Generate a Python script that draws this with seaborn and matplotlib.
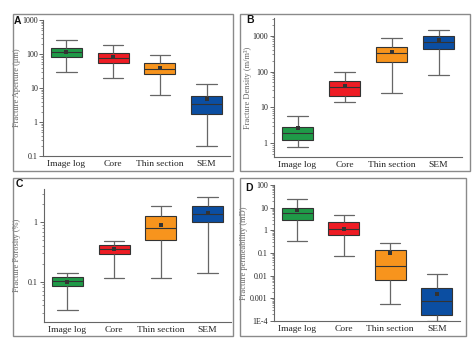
import numpy as np
import pandas as pd
import matplotlib
matplotlib.use("Agg")
import matplotlib.pyplot as plt
from matplotlib.patches import Rectangle
from matplotlib.ticker import FixedLocator, FixedFormatter, LogLocator, NullFormatter
import seaborn as sns

sns.set_theme(style="white")
plt.rcParams['font.family'] = ['Liberation Serif', 'DejaVu Serif']

categories = ["Image log", "Core", "Thin section", "SEM"]
colors = ["#1f9a48", "#ee1c24", "#f7941d", "#0b4ea2"]

# five-number summaries: min, q1, median, q3, max
aperture_min = [30, 19.5, 6.2, 0.2]
aperture_q1 = [82, 56, 25.7, 1.75]
aperture_med = [112, 78, 37, 3.5]
aperture_q3 = [155, 108, 56, 6.0]
aperture_max = [261, 178, 96, 13.3]
aperture_mean = [115, 80, 40, 4.6]

density_min = [0.8, 13.9, 25, 80]
density_q1 = [1.24, 21, 184, 415]
density_med = [2.0, 36, 321, 676]
density_q3 = [2.9, 54, 472, 955]
density_max = [5.6, 95, 857, 1460]
density_mean = [2.6, 40, 343, 740]

porosity_min = [0.033, 0.114, 0.114, 0.141]
porosity_q1 = [0.084, 0.29, 0.50, 1.02]
porosity_med = [0.102, 0.35, 0.80, 1.38]
porosity_q3 = [0.121, 0.41, 1.26, 1.86]
porosity_max = [0.141, 0.49, 1.9, 2.67]
porosity_mean = [0.098, 0.35, 0.89, 1.42]

perm_min = [0.34, 0.076, 0.00059, 0.000102]
perm_q1 = [2.95, 0.61, 0.0065, 0.000184]
perm_med = [5.6, 1.13, 0.028, 0.00078]
perm_q3 = [10.0, 2.24, 0.135, 0.0028]
perm_max = [23.8, 4.8, 0.278, 0.012]
perm_mean = [8.0, 1.1, 0.096, 0.0015]

W, H = 474, 348
fig = plt.figure(figsize=(W / 100, H / 100), dpi=100)

def fr(l, t, r, b):
    return [l / W, (H - b) / H, (r - l) / W, (b - t) / H]

panels = [
    dict(letter="A", frame=(13, 14, 233, 171), ax=(43, 20, 230, 156), lab=(14, 21), ylx=21,
         stats=(aperture_min, aperture_q1, aperture_med, aperture_q3, aperture_max), mean=aperture_mean,
         ylim=(0.1, 1000), ticks=[0.1, 1, 10, 100, 1000], tl=["0.1", "1", "10", "100", "1000"],
         ylabel="Fracture Aperture (μm)", pad=0.8),
    dict(letter="B", frame=(240, 14, 470, 171), ax=(274, 18, 462, 157), lab=(246, 20), ylx=252,
         stats=(density_min, density_q1, density_med, density_q3, density_max), mean=density_mean,
         ylim=(0.416, 3100), ticks=[1, 10, 100, 1000], tl=["1", "10", "100", "1000"],
         ylabel="Fracture Density (m/m³)", pad=1.5),
    dict(letter="C", frame=(13, 178, 233, 336), ax=(44, 189, 231, 322), lab=(16, 184), ylx=21,
         stats=(porosity_min, porosity_q1, porosity_med, porosity_q3, porosity_max), mean=porosity_mean,
         ylim=(0.021, 3.64), ticks=[0.1, 1], tl=["0.1", "1"],
         ylabel="Fracture Porosity (%)", pad=1.5),
    dict(letter="D", frame=(240, 178, 466, 336), ax=(274, 185, 460, 321), lab=(245, 188), ylx=248,
         stats=(perm_min, perm_q1, perm_med, perm_q3, perm_max), mean=perm_mean,
         ylim=(1e-4, 100), ticks=[1e-4, 1e-3, 1e-2, 0.1, 1, 10, 100],
         tl=["1E-4", "0.001", "0.01", "0.1", "1", "10", "100"],
         ylabel="Fracture permeability (mD)", pad=1.5),
]

spine_c = "#666666"
box_w = 0.66
cap_w = 0.44
for p in panels:
    l, t, r, b = p["frame"]
    fig.patches.append(Rectangle((l / W, (H - b) / H), (r - l) / W, (b - t) / H,
                                 transform=fig.transFigure, fill=False,
                                 edgecolor="#8a8a8a", linewidth=1.0))
    axl, axt, axr, axb = p["ax"]
    ax = fig.add_axes(fr(axl, axt, axr, axb))
    ax.set_facecolor("none")
    ax.set_yscale("log")
    mins, q1, med, q3, mx = p["stats"]
    rows = []
    for i, c in enumerate(categories):
        for v in (mins[i], q1[i], med[i], q3[i], mx[i]):
            rows.append((c, v))
    df = pd.DataFrame(rows, columns=["cat", "val"])
    sns.boxplot(data=df, x="cat", y="val", hue="cat", order=categories, hue_order=categories,
                palette=colors, whis=(0, 100), width=box_w, legend=False, ax=ax,
                linewidth=0.8, linecolor="#333333", saturation=1, dodge=False,
                whiskerprops=dict(color="#666666", linewidth=0.9),
                capprops=dict(color="#666666", linewidth=0.9),
                medianprops=dict(color="#333333", linewidth=0.8))
    # widen the whisker caps
    for ln in ax.lines:
        xd = np.asarray(ln.get_xdata(), dtype=float)
        yd = np.asarray(ln.get_ydata(), dtype=float)
        if len(xd) == 2 and yd[0] == yd[1]:
            span = abs(xd[1] - xd[0])
            if 0 < span < 0.9 * box_w:
                cx = xd.mean()
                ln.set_xdata([cx - cap_w / 2, cx + cap_w / 2])
    mdf = pd.DataFrame({"cat": categories, "val": p["mean"]})
    sns.stripplot(data=mdf, x="cat", y="val", order=categories, jitter=False, marker="s",
                  size=2.4, color="#333333", linewidth=0, ax=ax)
    ax.set_xlim(-0.5, 3.5)
    ax.set_ylim(*p["ylim"])
    ax.yaxis.set_major_locator(FixedLocator(p["ticks"]))
    ax.yaxis.set_major_formatter(FixedFormatter(p["tl"]))
    ax.yaxis.set_minor_locator(LogLocator(base=10, subs=np.arange(2, 10), numticks=20))
    ax.yaxis.set_minor_formatter(NullFormatter())
    ax.set_xticks(range(4))
    ax.set_xticklabels(categories)
    ax.set_xticks([0.5, 1.5, 2.5, 3.5], minor=True)
    ax.tick_params(axis="x", which="major", length=0, pad=3, labelsize=6.8, colors="#222222")
    ax.tick_params(axis="x", which="minor", length=2.5, direction="in", width=0.7, color=spine_c)
    ax.tick_params(axis="y", which="major", length=3, width=0.7, direction="out", pad=p["pad"],
                   labelsize=5.8, colors="#222222", left=True)
    ax.tick_params(axis="y", which="minor", length=1.5, width=0.5, direction="out",
                   color=spine_c, left=True)
    ax.tick_params(axis="y", which="major", color=spine_c)
    for s in ("top", "right"):
        ax.spines[s].set_visible(False)
    for s in ("left", "bottom"):
        ax.spines[s].set_color(spine_c)
        ax.spines[s].set_linewidth(0.8)
    ax.set_xlabel("")
    ax.set_ylabel(p["ylabel"], fontsize=6, color="#666666")
    ax.yaxis.set_label_coords((p["ylx"] - axl) / (axr - axl), 0.5)
    ax.grid(False)
    lx, ly = p["lab"]
    fig.text(lx / W, 1 - ly / H, p["letter"], fontsize=7.5, fontweight="bold",
             family=["Liberation Sans", "DejaVu Sans"], va="center", ha="left", color="#111111")

fig.savefig("out.png", dpi=100)
